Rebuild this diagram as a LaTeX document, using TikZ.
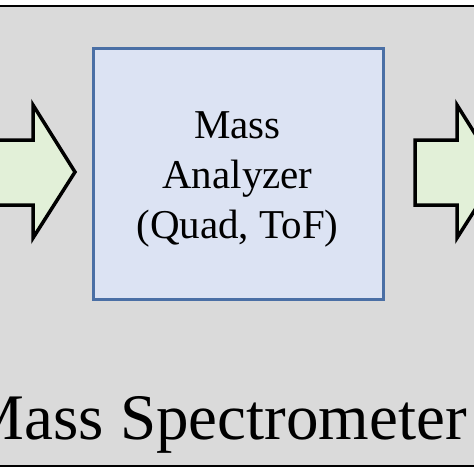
\documentclass[tikz,border=0pt]{standalone}
\usepackage{fontspec}
\setmainfont{Liberation Serif}
\definecolor{panelgray}{HTML}{DADADA}
\definecolor{boxfill}{HTML}{DCE3F3}
\definecolor{boxline}{HTML}{4A6FA5}
\definecolor{arrowfill}{HTML}{E2F0D8}
\tikzset{
  panel/.style={draw=black, line width=2.5pt, fill=panelgray},
  analyzerbox/.style={draw=boxline, line width=3pt, fill=boxfill, minimum width=290pt, minimum height=251pt, inner sep=0pt},
  blockarrow/.style={draw=black, line width=3.5pt, fill=arrowfill, line join=miter},
}
\begin{document}
\begin{tikzpicture}[x=1pt, y=-1pt]
\useasboundingbox (0,0) rectangle (474,474);
\fill[white] (0,0) rectangle (474,474);
\draw[panel] (-10,6) rectangle (484,466);
\node[analyzerbox] (analyzer) at (238,173.5) {};
\node[align=center, font=\fontsize{41}{50}\selectfont, inner sep=0pt, anchor=base] (label) at (237.5,238) {Mass\\Analyzer\\(Quad, ToF)};
\draw[blockarrow] (-20,140) -- (33,140) -- (33,105) -- (75,172) -- (33,238) -- (33,205) -- (-20,205) -- cycle;
\draw[blockarrow] (415,140) -- (457,140) -- (457,105) -- (499,172) -- (457,238) -- (457,205) -- (415,205) -- cycle;
\node[font=\fontsize{65}{70}\selectfont, inner sep=0pt, anchor=base east] (title) at (467,439) {Mass Spectrometer};
\end{tikzpicture}
\end{document}
